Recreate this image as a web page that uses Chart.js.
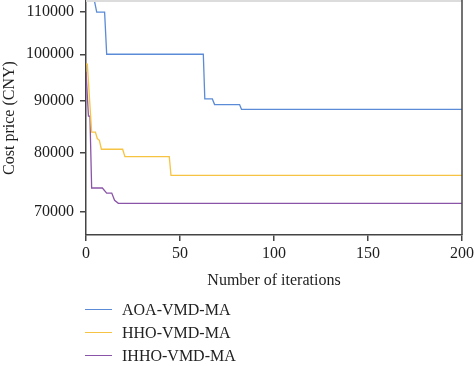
<!DOCTYPE html>
<html>
<head>
<meta charset="utf-8">
<script src="https://cdn.jsdelivr.net/npm/chart.js@4/dist/chart.umd.min.js"></script>
<style>
  html, body { margin: 0; padding: 0; background: #fff; }
  #wrap { position: relative; width: 474px; height: 366px; }
  #legend { position: absolute; left: 85px; top: 298px; font-family: "Liberation Serif", serif; font-size: 16px; color: #222; }
  #legend div { height: 23px; line-height: 23px; display: flex; align-items: center; }
  #legend span.ln { display: inline-block; width: 27px; height: 0; border-top: 1.5px solid; margin-right: 10px; }
</style>
</head>
<body>
<div id="wrap">
  <canvas id="c" width="474" height="366"></canvas>
  <div id="legend"></div>
</div>
<script>
// Series: iteration positions and cost values (CNY)
const aoaIter  = [0, 4, 5.7, 9.9, 11, 62.4, 63.2, 67.2, 68.4, 81.7, 82.7, 200];
const aoaCost  = [125000, 114000, 110000, 110000, 100000, 100000, 90400, 90400, 89250, 89250, 88300, 88300];

const hhoIter  = [0, 0.7, 3, 5, 6, 7.1, 8.2, 19.5, 20.7, 44.3, 45.2, 200];
const hhoCost  = [97800, 97800, 83850, 83850, 82650, 82330, 80670, 80670, 79340, 79340, 76050, 76050];

const ihhoIter = [0, 0.2, 1.3, 2.1, 3, 8.7, 11, 13.7, 15.2, 17.2, 200];
const ihhoCost = [96100, 96100, 86950, 86950, 73900, 73900, 73060, 73060, 71870, 71380, 71380];

const seriesNames = ["AOA-VMD-MA", "HHO-VMD-MA", "IHHO-VMD-MA"];
const seriesColors = ["#5b8bd6", "#f7c342", "#8a55a8"];

const xTicks = [0, 50, 100, 150, 200];
const yTicks = [70000, 80000, 90000, 100000, 110000];

const toPts = (xs, ys) => xs.map((x, i) => ({ x: x, y: ys[i] }));

const FONT = "'Liberation Serif', 'Times New Roman', serif";
const AXIS = "#444";

const borderPlugin = {
  id: 'frame',
  afterDatasetsDraw(chart) {
    const { ctx, chartArea: a } = chart;
    ctx.save();
    ctx.strokeStyle = "#dcdcdc";
    ctx.lineWidth = 2;
    ctx.beginPath();
    ctx.moveTo(a.left, a.top);
    ctx.lineTo(a.right, a.top);
    ctx.stroke();
    ctx.strokeStyle = AXIS;
    ctx.lineWidth = 1.5;
    ctx.beginPath();
    ctx.moveTo(a.right, 0);
    ctx.lineTo(a.right, a.bottom);
    ctx.stroke();
    ctx.restore();
  }
};

const chart = new Chart(document.getElementById('c'), {
  type: 'line',
  data: {
    datasets: [
      { label: seriesNames[0], data: toPts(aoaIter, aoaCost), borderColor: seriesColors[0] },
      { label: seriesNames[1], data: toPts(hhoIter, hhoCost), borderColor: seriesColors[1] },
      { label: seriesNames[2], data: toPts(ihhoIter, ihhoCost), borderColor: seriesColors[2] }
    ].map(d => Object.assign(d, { borderWidth: 1.3, pointRadius: 0, tension: 0, fill: false }))
  },
  options: {
    responsive: false,
    animation: false,
    devicePixelRatio: 1,
    layout: { padding: { left: 0, right: 12, top: 1, bottom: 76 } },
    plugins: {
      legend: { display: false },
      tooltip: { enabled: false }
    },
    scales: {
      x: {
        type: 'linear',
        min: 0, max: 200,
        afterBuildTicks: s => { s.ticks = xTicks.map(v => ({ value: v })); },
        afterFit: s => { s.height = 55; s.paddingLeft = 0; s.paddingRight = 0; },
        border: { display: true, color: AXIS, width: 1.5 },
        grid: { drawOnChartArea: false, drawTicks: true, tickLength: 6, color: AXIS, lineWidth: 1.5 },
        ticks: { color: "#1e1e1e", font: { family: FONT, size: 16 }, padding: 3, maxRotation: 0 },
        title: { display: true, text: "Number of iterations", color: "#1e1e1e", font: { family: FONT, size: 16 }, padding: { top: -2, bottom: 0 } }
      },
      y: {
        type: 'logarithmic',
        min: 66450, max: 112800,
        afterBuildTicks: s => { s.ticks = yTicks.map(v => ({ value: v })); },
        afterFit: s => { s.width = 86; s.paddingTop = 0; s.paddingBottom = 0; },
        border: { display: true, color: AXIS, width: 1.5 },
        grid: { drawOnChartArea: false, drawTicks: true, tickLength: 6, color: AXIS, lineWidth: 1.5 },
        ticks: { color: "#1e1e1e", font: { family: FONT, size: 16 }, padding: 6, callback: v => String(v) },
        title: { display: true, text: "Cost price (CNY)", color: "#1e1e1e", font: { family: FONT, size: 16 }, padding: { top: 0, bottom: 0 } }
      }
    }
  },
  plugins: [borderPlugin]
});

// HTML legend built from the chart's datasets
const lg = document.getElementById('legend');
chart.data.datasets.forEach(d => {
  const row = document.createElement('div');
  const ln = document.createElement('span');
  ln.className = 'ln';
  ln.style.borderTopColor = d.borderColor;
  row.appendChild(ln);
  row.appendChild(document.createTextNode(d.label));
  lg.appendChild(row);
});
</script>
</body>
</html>
